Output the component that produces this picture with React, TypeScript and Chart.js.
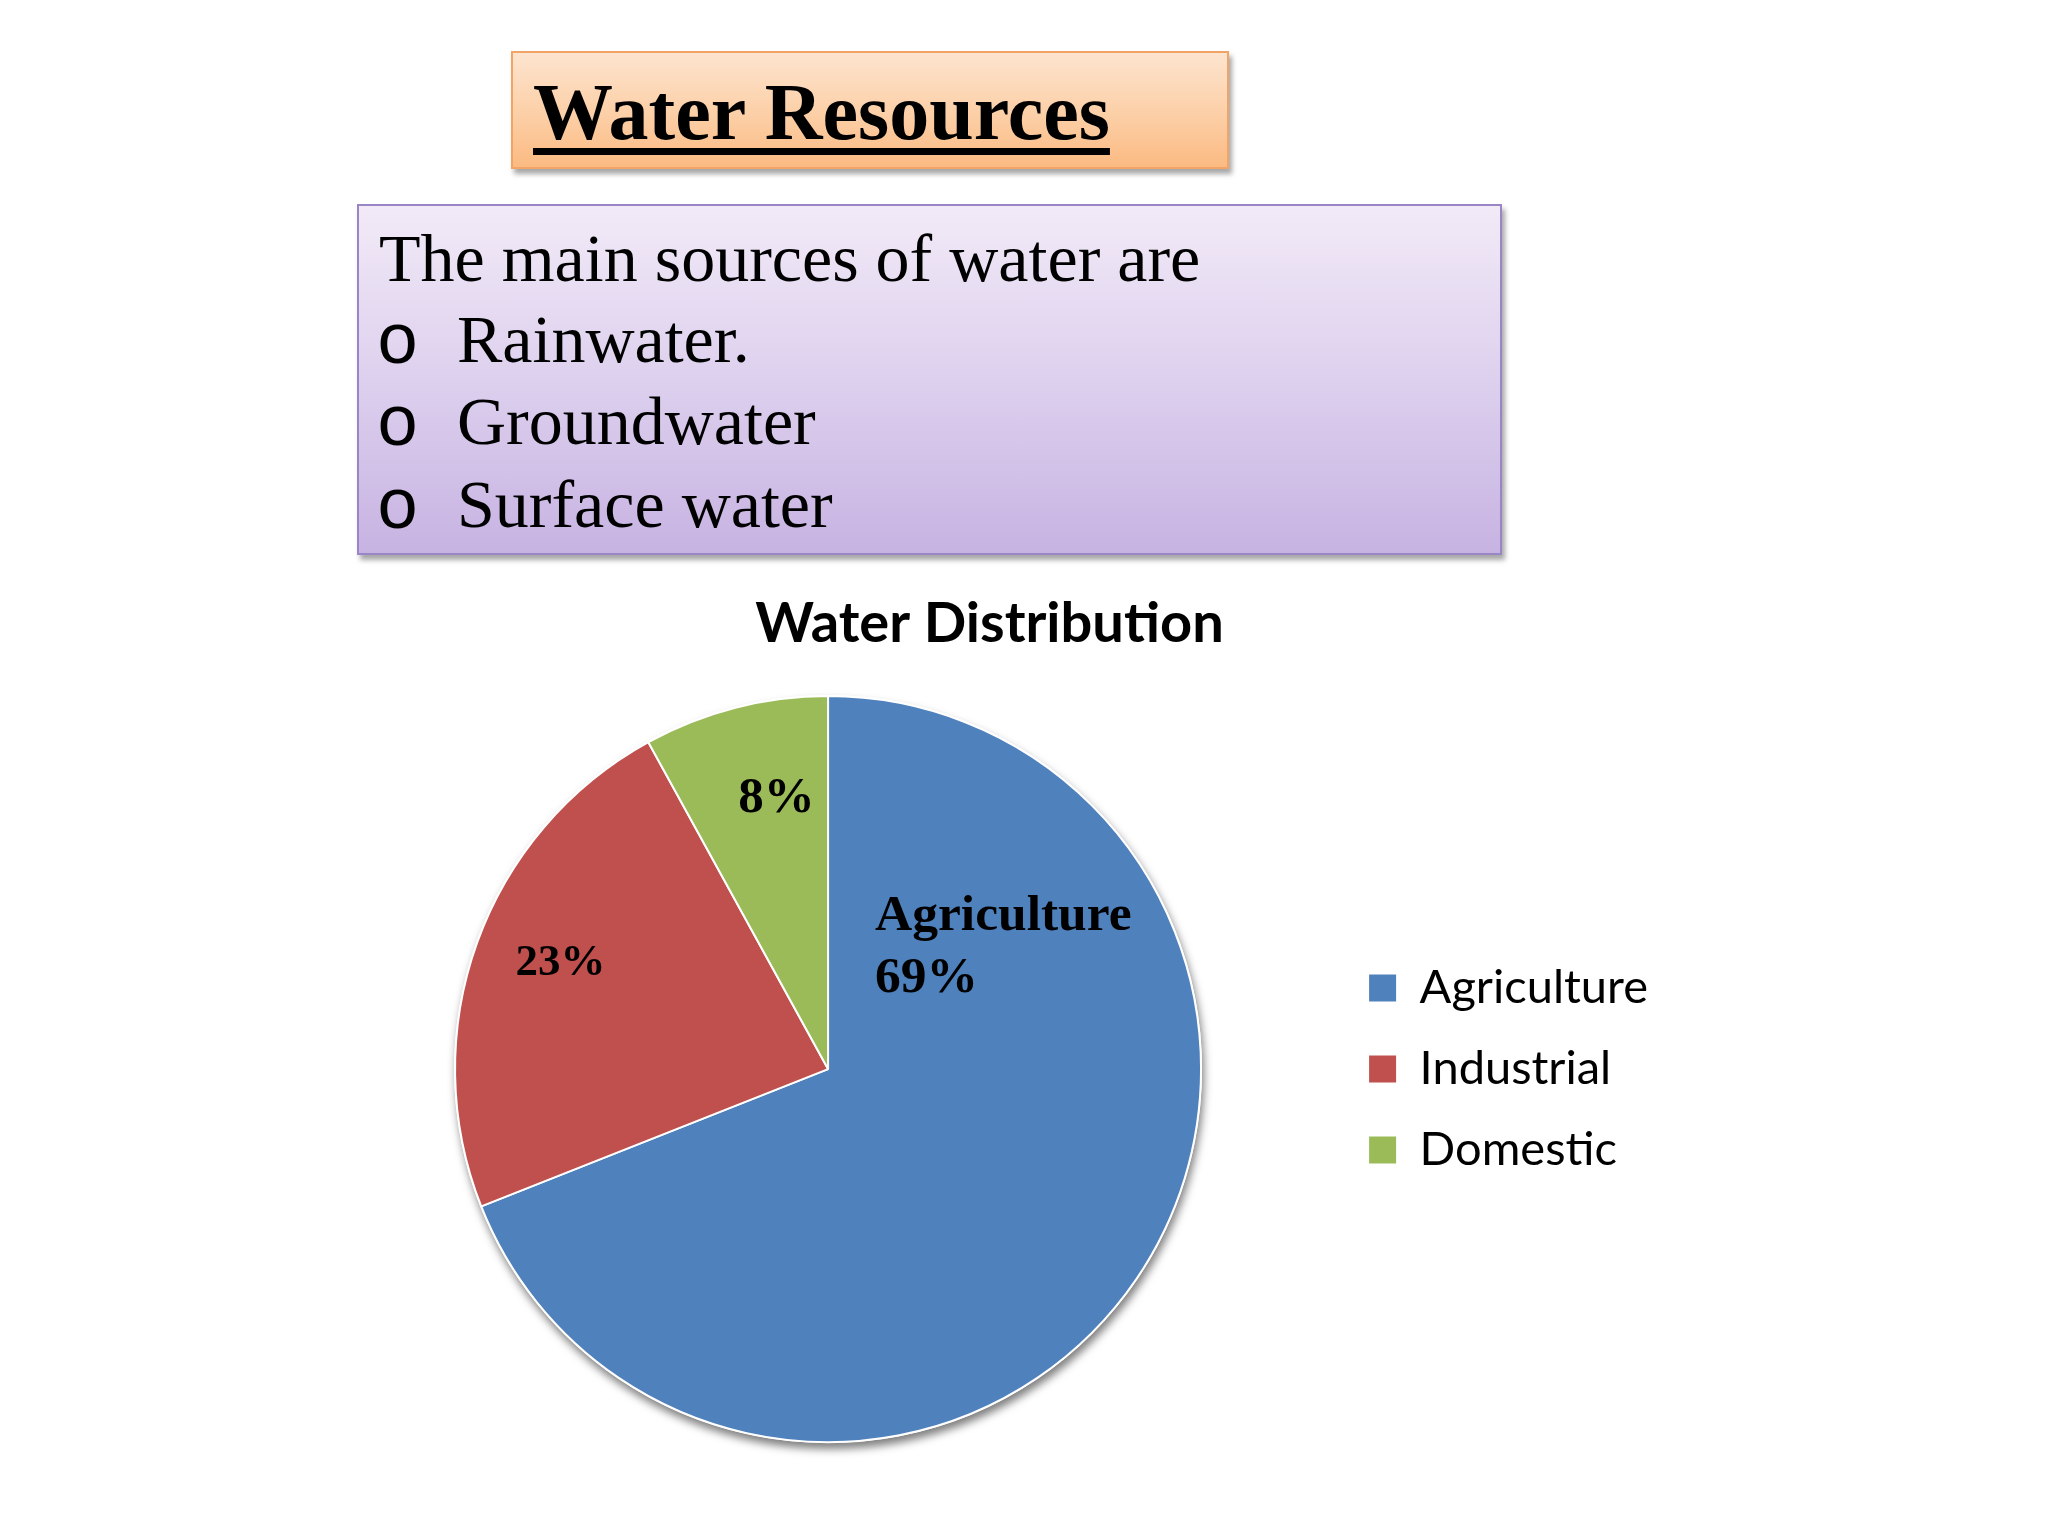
import React, { useEffect, useRef } from "react";
import { Chart, registerables } from "chart.js";

Chart.register(...registerables);

// ---- data ----
const categories = ["Agriculture", "Industrial", "Domestic"];
const shares = [69, 23, 8];
const sliceColors = ["#4F81BD", "#C0504D", "#9BBB59"];
const chartTitle = "Water Distribution";
const slideTitle = "Water Resources";
const introLine = "The main sources of water are";
const sources = ["Rainwater.", "Groundwater", "Surface water"];

const pieShadow = {
  id: "pieShadow",
  beforeDatasetsDraw(chart: any) {
    const arc = chart.getDatasetMeta(0).data[0];
    if (!arc) return;
    const { x, y, outerRadius } = arc.getProps(["x", "y", "outerRadius"], true);
    const ctx = chart.ctx;
    ctx.save();
    ctx.shadowColor = "rgba(0,0,0,0.5)";
    ctx.shadowBlur = 9;
    ctx.shadowOffsetX = 2;
    ctx.shadowOffsetY = 6;
    ctx.beginPath();
    ctx.arc(x, y, outerRadius + 1, 0, Math.PI * 2);
    ctx.fillStyle = "#ffffff";
    ctx.fill();
    ctx.restore();
  },
};

const sliceLabels = {
  id: "sliceLabels",
  afterDatasetsDraw(chart: any, _args: any, opts: any) {
    const meta = chart.getDatasetMeta(0);
    const ctx = chart.ctx;
    const data = chart.data.datasets[0].data;
    const labels = chart.data.labels;
    meta.data.forEach((arc: any, i: number) => {
      const cfg = opts.items[i];
      if (!cfg) return;
      const { x, y, outerRadius: r } = arc.getProps(["x", "y", "outerRadius"], true);
      ctx.save();
      ctx.fillStyle = "#000";
      ctx.font = `bold ${cfg.size}px "Liberation Serif", "Times New Roman", serif`;
      ctx.textAlign = cfg.align;
      ctx.textBaseline = "alphabetic";
      const lines = cfg.withName ? [String(labels[i]), data[i] + "%"] : [data[i] + "%"];
      lines.forEach((t: string, k: number) => {
        ctx.fillText(t, x + cfg.dx * r, y + cfg.dy * r + k * cfg.gap * r);
      });
      ctx.restore();
    });
  },
};

const serif = '"Liberation Serif", "Times New Roman", serif';

export default function App() {
  const ref = useRef<HTMLCanvasElement>(null);

  useEffect(() => {
    if (!ref.current) return;
    const baseGen = (Chart as any).overrides.pie.plugins.legend.labels.generateLabels;
    const chart = new Chart(ref.current, {
      type: "pie",
      data: {
        labels: categories,
        datasets: [
          {
            data: shares,
            backgroundColor: sliceColors,
            borderColor: "#ffffff",
            borderWidth: 2,
            radius: 373,
          } as any,
        ],
      },
      options: {
        responsive: false,
        animation: false,
        devicePixelRatio: 1,
        layout: { padding: { left: 321, right: 390, top: 0, bottom: 88 } },
        plugins: {
          title: {
            display: true,
            text: chartTitle,
            color: "#000",
            font: { family: "Lato", size: 56, weight: "bold", lineHeight: 1.2 },
            padding: { top: 30, bottom: 33 },
          },
          legend: {
            position: "right",
            fullSize: false,
            labels: {
              color: "#000",
              boxWidth: 27,
              boxHeight: 27,
              padding: 34,
              font: { family: "Lato", size: 47 },
              generateLabels: (c: any) =>
                baseGen(c).map((l: any) => ({ ...l, lineWidth: 0 })),
            },
          },
          tooltip: { enabled: false },
          sliceLabels: {
            items: [
              { dx: 0.126, dy: -0.373, gap: 0.166, size: 51.5, align: "left", withName: true },
              { dx: -0.717, dy: -0.252, gap: 0, size: 45, align: "center", withName: false },
              { dx: -0.138, dy: -0.689, gap: 0, size: 51, align: "center", withName: false },
            ],
          },
        } as any,
      },
      plugins: [pieShadow, sliceLabels],
    });
    return () => chart.destroy();
  }, []);

  const lineStyle = (top: number, left: number): React.CSSProperties => ({
    position: "absolute",
    top,
    left,
    fontFamily: serif,
    fontSize: 68,
    lineHeight: 1,
    color: "#000",
    whiteSpace: "nowrap",
  });

  const lineTops = [305, 387, 470];

  return (
    <div style={{ position: "absolute", left: 0, top: 0, width: 2048, height: 1536, background: "#ffffff", overflow: "hidden" }}>
      <div
        style={{
          position: "absolute",
          left: 511,
          top: 51,
          width: 718,
          height: 118,
          boxSizing: "border-box",
          background: "linear-gradient(to bottom, #fde4cf 0%, #fccfa6 55%, #fbba82 100%)",
          border: "2px solid #f2a466",
          boxShadow: "3px 5px 5px rgba(0,0,0,0.35)",
        }}
      />
      <div
        style={{
          position: "absolute",
          left: 533,
          top: 72,
          fontFamily: serif,
          fontWeight: "bold",
          fontSize: 80,
          lineHeight: 1,
          color: "#000",
          whiteSpace: "nowrap",
          textDecoration: "underline",
          textDecorationThickness: "7px",
          textUnderlineOffset: "9px",
        }}
      >
        {slideTitle}
      </div>

      <div
        style={{
          position: "absolute",
          left: 357,
          top: 204,
          width: 1145,
          height: 351,
          boxSizing: "border-box",
          background: "linear-gradient(to bottom, #f2eaf7 0%, #ddd0ee 50%, #c7b3e2 100%)",
          border: "2px solid #9a86c6",
          boxShadow: "3px 5px 5px rgba(0,0,0,0.35)",
        }}
      />
      <div style={lineStyle(224, 379)}>{introLine}</div>
      {sources.map((s, i) => (
        <React.Fragment key={s}>
          <div
            style={{
              ...lineStyle(lineTops[i] + 3, 376),
              fontFamily: '"Liberation Mono", "Courier New", monospace',
              fontSize: 72,
            }}
          >
            o
          </div>
          <div style={lineStyle(lineTops[i], 457)}>{s}</div>
        </React.Fragment>
      ))}

      <canvas
        ref={ref}
        width={2048}
        height={976}
        style={{ position: "absolute", left: 0, top: 560, width: 2048, height: 976, display: "block" }}
      />
    </div>
  );
}
